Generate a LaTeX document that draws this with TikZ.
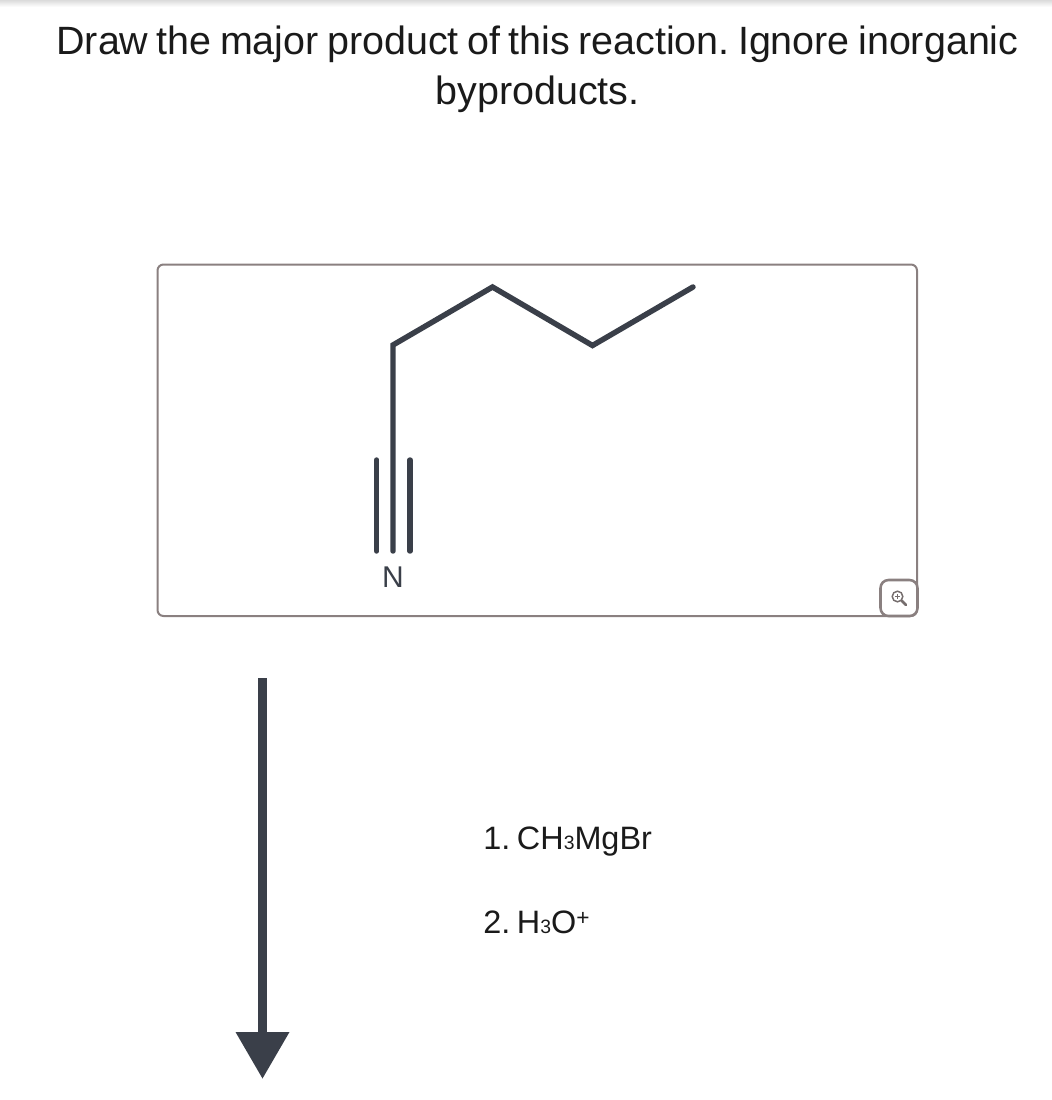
\documentclass[tikz,border=0pt]{standalone}
\usepackage{fontspec}
\setmainfont{Liberation Sans}
\usetikzlibrary{calc}
\definecolor{ink}{HTML}{3A3F49}
\definecolor{frame}{HTML}{8A8080}
\definecolor{txt}{HTML}{1A1A1A}
\newcommand{\headsetup}{\frenchspacing\fontsize{29.6}{37}\selectfont\spaceskip 6.3pt\relax}
\newcommand{\reagsetup}{\frenchspacing\fontsize{24.3}{30}\selectfont\spaceskip 5pt\relax}
\tikzset{
  bond/.style={draw=ink,line width=4.1pt,line cap=round,line join=miter},
  triple/.style={draw=ink,line width=4.1pt,line cap=round},
  heading/.style={text=txt,font=\headsetup,inner sep=0pt,anchor=base},
  reagent/.style={text=txt,font=\reagsetup,inner sep=0pt,anchor=base west},
  atom/.style={text=ink,font=\fontsize{22.5}{24}\selectfont,inner sep=0pt,anchor=base},
  panel/.style={draw=frame,line width=1.5pt,rounded corners=4.5pt},
  zoombox/.style={draw=frame,line width=1.9pt,fill=white,rounded corners=6pt}
}
\newcommand{\sbs}[1]{{\fontsize{14.5}{15}\selectfont #1}}
\begin{document}
\begin{tikzpicture}[x=0.75pt,y=-0.75pt]
\useasboundingbox (0,0) rectangle (1052,1100);
\shade[top color=black!14,bottom color=white] (0,0) rectangle (1052,7);
\node[heading] (line1) at (537.5,54.5) {Draw the major product of this reaction. Ignore inorganic};
\node[heading] (line2) at (537.5,104.5) {byproducts.};
\draw[panel] (157.5,264.5) rectangle (917,616);
\coordinate (c4) at (693,287);
\coordinate (c3) at (592.5,345.5);
\coordinate (c2) at (492.5,287);
\coordinate (c1) at (393,345);
\coordinate (cn) at (393,551);
\coordinate (la) at (376.7,460);
\coordinate (lb) at (376.7,551);
\coordinate (ra) at (410,460);
\coordinate (rb) at (410,551);
\draw[bond] (c4) -- (c3) -- (c2) -- (c1) -- (cn);
\draw[triple] (la) -- (lb);
\draw[triple] (ra) -- (rb);
\node[atom] (n) at (393,587.5) {N};
\draw[zoombox] (880.5,580) rectangle (917.5,616);
\coordinate (lens) at (897.5,596.5);
\coordinate (handle) at (906,605);
\draw[frame!85!black,line width=1.1pt] (lens) circle[radius=5.3];
\draw[frame!85!black,line width=1.9pt,line cap=round] ($(lens)+(4,4)$) -- (handle);
\draw[frame!85!black,line width=0.8pt] ($(lens)+(-2.7,0)$) -- ($(lens)+(2.7,0)$);
\draw[frame!85!black,line width=0.8pt] ($(lens)+(0,-2.7)$) -- ($(lens)+(0,2.7)$);
\coordinate (arrowtop) at (262.5,678);
\coordinate (arrowneck) at (262.5,1033);
\draw[ink,line width=7.4pt] (arrowtop) -- (arrowneck);
\fill[ink] (235.5,1032) -- (289.5,1032) -- (262.5,1078.5) -- cycle;
\node[reagent] (r1) at (483,849) {1. CH\sbs{3}MgBr};
\node[reagent] (r2) at (483,933) {2. H\sbs{3}O\raisebox{0.45ex}{\fontsize{17}{17}\selectfont +}};
\end{tikzpicture}
\end{document}
